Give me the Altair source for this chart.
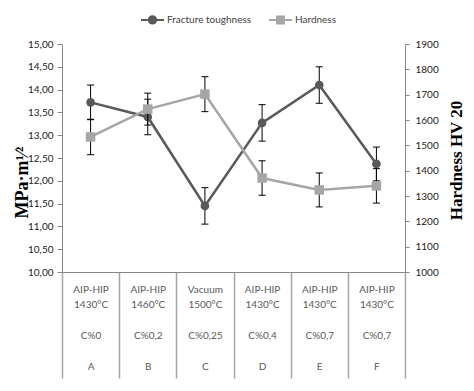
import altair as alt
import pandas as pd

# ---- data ----
categories = ["A", "B", "C", "D", "E", "F"]
process = ["AIP-HIP", "AIP-HIP", "Vacuum", "AIP-HIP", "AIP-HIP", "AIP-HIP"]
temperature = ["1430°C", "1460°C", "1500°C", "1430°C", "1430°C", "1430°C"]
carbon = ["C%0", "C%0,2", "C%0,25", "C%0,4", "C%0,7", "C%0,7"]
toughness = [13.72, 13.40, 11.45, 13.27, 14.10, 12.37]
toughness_err = [0.38, 0.39, 0.40, 0.40, 0.40, 0.37]
hardness = [1533, 1643, 1702, 1371, 1324, 1340]
hardness_err = [70, 63, 69, 68, 67, 68]
series_names = ["Fracture toughness", "Hardness"]
left_ticks = [10.0, 10.5, 11.0, 11.5, 12.0, 12.5, 13.0, 13.5, 14.0, 14.5, 15.0]
right_ticks = [1000, 1100, 1200, 1300, 1400, 1500, 1600, 1700, 1800, 1900]

DARK = "#595959"
LIGHT = "#a6a6a6"
BLANK = "\u200b"  # zero-width char keeps the empty line (plain spaces get trimmed)

labels = ["\n".join([p, t, BLANK, c, BLANK, k]) for p, t, c, k in zip(process, temperature, carbon, categories)]

df = pd.DataFrame({
    "label": labels,
    "t": toughness,
    "t_lo": [v - e for v, e in zip(toughness, toughness_err)],
    "t_hi": [v + e for v, e in zip(toughness, toughness_err)],
    "h": hardness,
    "h_lo": [v - e for v, e in zip(hardness, hardness_err)],
    "h_hi": [v + e for v, e in zip(hardness, hardness_err)],
})
legend_df = pd.DataFrame({"series": series_names})

x_scale = alt.Scale(type="band", domain=labels, paddingInner=0, paddingOuter=0)
x_axis = alt.Axis(
    title=None, labelExpr="split(datum.label, '\\n')", labelAngle=0,
    labelFont="Lato", labelFontSize=10, labelColor="#595959", labelLineHeight=15.5,
    labelBaseline="top", labelPadding=-94, tickBand="extent", tickSize=106,
    tickColor="#a6a6a6", tickWidth=1.5, domainColor="#868686", domainWidth=1.2,
)
X = alt.X("label:N", scale=x_scale, axis=x_axis)

left_scale = alt.Scale(domain=[10, 15], nice=False, zero=False)
right_scale = alt.Scale(domain=[1000, 1900], nice=False, zero=False)

left_axis = alt.Axis(
    orient="left", values=left_ticks, grid=False,
    labelExpr="replace(format(datum.value, '.2f'), '.', ',')",
    tickSize=5, tickColor="#868686", domainColor="#868686",
    labelFont="Lato", labelFontSize=10, labelColor="#222222", labelPadding=4,
    title="MPa·m¹⁄²", titleFont="Liberation Serif", titleFontSize=18,
    titleFontWeight="bold", titleColor="black", titleAngle=270,
    titleX=-40, titleY=138, titleBaseline="middle", titleAlign="center",
)
right_axis = alt.Axis(
    orient="right", values=right_ticks, grid=False, format="d",
    tickSize=4, tickColor="#868686", domainColor="#868686",
    labelFont="Lato", labelFontSize=10, labelColor="#222222", labelPadding=6,
    title="Hardness HV 20", titleFont="Liberation Serif", titleFontSize=17,
    titleFontWeight="bold", titleColor="black", titleAngle=270,
    titleX=51, titleY=116, titleBaseline="middle", titleAlign="center",
)


def YL(field):
    return alt.Y(field, scale=left_scale, axis=left_axis)


def YR(field):
    return alt.Y(field, scale=right_scale, axis=right_axis)


base = alt.Chart(df)

# fracture toughness (left axis)
t_rule = base.mark_rule(color="black", strokeWidth=1).encode(x=X, y=YL("t_lo:Q"), y2="t_hi:Q")
t_cap_lo = base.mark_tick(color="black", size=7, thickness=1, opacity=1).encode(x=X, y=YL("t_lo:Q"))
t_cap_hi = base.mark_tick(color="black", size=7, thickness=1, opacity=1).encode(x=X, y=YL("t_hi:Q"))
t_line = base.mark_line(color=DARK, strokeWidth=2.5).encode(x=X, y=YL("t:Q"))
t_pts = base.mark_point(shape="circle", filled=True, size=75, color=DARK, opacity=1).encode(x=X, y=YL("t:Q"))
left = alt.layer(t_rule, t_cap_lo, t_cap_hi, t_line, t_pts)

# hardness (right axis)
h_rule = base.mark_rule(color="black", strokeWidth=1).encode(x=X, y=YR("h_lo:Q"), y2="h_hi:Q")
h_cap_lo = base.mark_tick(color="black", size=7, thickness=1, opacity=1).encode(x=X, y=YR("h_lo:Q"))
h_cap_hi = base.mark_tick(color="black", size=7, thickness=1, opacity=1).encode(x=X, y=YR("h_hi:Q"))
h_line = base.mark_line(color=LIGHT, strokeWidth=2.5).encode(x=X, y=YR("h:Q"))
h_pts = base.mark_point(shape="square", filled=True, size=90, color=LIGHT, opacity=1).encode(x=X, y=YR("h:Q"))
right = alt.layer(h_rule, h_cap_lo, h_cap_hi, h_line, h_pts)

# legend (line + marker symbols)
circle_path = "M-1,0L-0.32,0M0.32,0L1,0M-0.32,0A0.32,0.32,0,1,0,0.32,0A0.32,0.32,0,1,0,-0.32,0Z"
square_path = "M-1,0L-0.3,0M0.3,0L1,0M-0.3,-0.3L0.3,-0.3L0.3,0.3L-0.3,0.3Z"
leg = alt.Legend(
    orient="none", legendX=78, legendY=-37, direction="horizontal", title=None,
    labelFont="Lato", labelFontSize=10, labelColor="#404040", symbolSize=529,
    symbolStrokeWidth=2, symbolOpacity=1, labelOffset=2, columnPadding=13, padding=0,
)
legend_layer = alt.Chart(legend_df).mark_point(filled=True, size=529, strokeWidth=2, opacity=1).encode(
    shape=alt.Shape("series:N", scale=alt.Scale(domain=series_names, range=[circle_path, square_path]), legend=leg),
    fill=alt.Fill("series:N", scale=alt.Scale(domain=series_names, range=[DARK, LIGHT]), legend=leg),
    stroke=alt.Stroke("series:N", scale=alt.Scale(domain=series_names, range=[DARK, LIGHT]), legend=leg),
).transform_filter("false")

chart = alt.layer(left, right, legend_layer).resolve_scale(y="independent").properties(
    width=343, height=228,
    padding={"left": 54, "top": 36, "right": 61, "bottom": 111},
    autosize=alt.AutoSizeParams(type="none"),
).configure_view(stroke=None)

chart.save("out.html", embed_options={"renderer": "svg", "actions": False})
